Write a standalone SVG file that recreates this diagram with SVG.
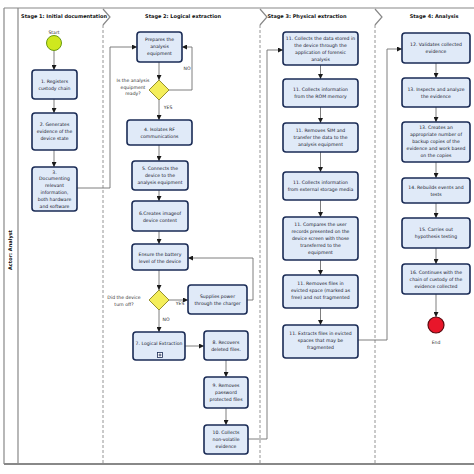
<svg xmlns="http://www.w3.org/2000/svg" width="474" height="474" viewBox="0 0 474 474">
<defs>
<marker id="ah" viewBox="0 0 6 6" refX="6" refY="3" markerWidth="5" markerHeight="5" orient="auto" markerUnits="userSpaceOnUse">
<path d="M0,0 L6,3 L0,6 Z" fill="#1a1a1a"/>
</marker>
<style>
.bx{fill:#e0eaf8;stroke:#1a2b55;stroke-width:1.6}
.t{font-family:"DejaVu Sans","Liberation Sans",sans-serif;font-size:4.6px;fill:#141428;text-anchor:middle}
.lb{font-family:"DejaVu Sans","Liberation Sans",sans-serif;font-size:4.6px;fill:#333;text-anchor:middle}
.hd{font-family:"DejaVu Sans","Liberation Sans",sans-serif;font-size:5px;font-weight:bold;fill:#111;text-anchor:middle}
.c{fill:none;stroke:#707070;stroke-width:0.9;stroke-linejoin:round;marker-end:url(#ah)}
.dash{fill:none;stroke:#888;stroke-width:0.9;stroke-dasharray:3,2}
.pool{fill:none;stroke:#888;stroke-width:1.2}
</style>
</defs>
<rect width="474" height="474" fill="#fff"/>
<g id="pool">
<line class="pool" x1="4" y1="8" x2="474" y2="8"/>
<line class="pool" x1="4" y1="8" x2="4" y2="464"/>
<line class="pool" x1="18" y1="8" x2="18" y2="464"/>
<line x1="4" y1="464" x2="474" y2="464" stroke="#888" stroke-width="2"/>
<text class="hd" transform="translate(12,250) rotate(-90)">Actor: Analyst</text>
</g>
<g id="phases">
<polyline class="pool" points="103,9 110,17 103,25" stroke-width="0.9"/>
<line class="dash" x1="103" y1="25" x2="103" y2="463"/>
<polyline class="pool" points="260,9 267,17 260,25" stroke-width="0.9"/>
<line class="dash" x1="260" y1="25" x2="260" y2="463"/>
<polyline class="pool" points="375,9 382,17 375,25" stroke-width="0.9"/>
<line class="dash" x1="375" y1="25" x2="375" y2="463"/>
<text class="hd" x="64" y="18">Stage 1: Initial documentation</text>
<text class="hd" x="183" y="18">Stage 2: Logical extraction</text>
<text class="hd" x="307" y="18">Stage 3: Physical extraction</text>
<text class="hd" x="434" y="18">Stage 4: Analysis</text>
</g>
<g id="connectors">
<path class="c" d="M54,50.5 V70"/>
<path class="c" d="M54,99 V113"/>
<path class="c" d="M54,150 V167"/>
<path class="c" d="M77,188 H110 V47 H137"/>
<path class="c" d="M159,62 V80"/>
<path class="c" d="M169,90 H192 V47 H182"/>
<path class="c" d="M159,100 V120"/>
<path class="c" d="M159,145 V161"/>
<path class="c" d="M159,190 V201"/>
<path class="c" d="M159,231 V244"/>
<path class="c" d="M159,270 V290"/>
<path class="c" d="M169,300 H188"/>
<path class="c" d="M247,300 H253 V258 H188"/>
<path class="c" d="M159,310 V332"/>
<path class="c" d="M185,346 H204"/>
<path class="c" d="M226,360 V377"/>
<path class="c" d="M226,408 V425"/>
<path class="c" d="M248,439 H267 V50 H283"/>
<path class="c" d="M320.5,65 V79"/>
<path class="c" d="M320.5,107 V123"/>
<path class="c" d="M320.5,152 V172"/>
<path class="c" d="M320.5,200 V217"/>
<path class="c" d="M320.5,260 V275"/>
<path class="c" d="M320.5,308 V325"/>
<path class="c" d="M358,340 H387 V49 H402"/>
<path class="c" d="M436,63 V78"/>
<path class="c" d="M436,107 V122"/>
<path class="c" d="M436,162 V178"/>
<path class="c" d="M436,203 V218"/>
<path class="c" d="M436,248 V264"/>
<path class="c" d="M436,294 V317"/>
<text class="lb" x="187" y="70">NO</text>
<text class="lb" x="168" y="109">YES</text>
<text class="lb" x="180" y="305">YES</text>
<text class="lb" x="166" y="321">NO</text>
</g>
<g id="start">
<circle cx="54" cy="43" r="7.5" fill="#cfe81e" stroke="#6a9a10" stroke-width="1"/>
<text class="lb" x="54" y="34">Start</text>
</g>
<g id="n1"><rect class="bx" x="32" y="70" width="45" height="29" rx="3"/>
<text class="t" x="54.5" y="83">1. Registers<tspan x="54.5" dy="7">custody chain</tspan></text></g>
<g id="n2"><rect class="bx" x="32" y="113" width="45" height="37" rx="3"/>
<text class="t" x="54.5" y="126">2. Generates<tspan x="54.5" dy="7">evidence of the</tspan><tspan x="54.5" dy="7">device state</tspan></text></g>
<g id="n3"><rect class="bx" x="32" y="167" width="45" height="44" rx="3"/>
<text class="t" x="54.5" y="173.5">3.<tspan x="54.5" dy="6.8">Documenting</tspan><tspan x="54.5" dy="6.8">relevant</tspan><tspan x="54.5" dy="6.8">information,</tspan><tspan x="54.5" dy="6.8">both hardware</tspan><tspan x="54.5" dy="6.8">and software</tspan></text></g>
<g id="prep"><rect class="bx" x="137" y="32" width="45" height="30" rx="3"/>
<text class="t" x="159.5" y="41">Prepares the<tspan x="159.5" dy="7">analysis</tspan><tspan x="159.5" dy="7">equipment</tspan></text></g>
<g id="d1"><path d="M159,80 L169,90 L159,100 L149,90 Z" fill="#f4ee5a" stroke="#8a8420" stroke-width="0.9"/>
<text class="lb" x="133" y="82">Is the analysis<tspan x="133" dy="6.5">equipment</tspan><tspan x="133" dy="6.5">ready?</tspan></text></g>
<g id="n4"><rect class="bx" x="127" y="120" width="65" height="25" rx="3"/>
<text class="t" x="159.5" y="131">4. Isolates RF<tspan x="159.5" dy="7">communications</tspan></text></g>
<g id="n5"><rect class="bx" x="132" y="161" width="56" height="29" rx="3"/>
<text class="t" x="160" y="170">5. Connects the<tspan x="160" dy="7">device to the</tspan><tspan x="160" dy="7">analysis equipment</tspan></text></g>
<g id="n6"><rect class="bx" x="132" y="201" width="56" height="30" rx="3"/>
<text class="t" x="160" y="215">6.Creates imageof<tspan x="160" dy="7">device content</tspan></text></g>
<g id="ensure"><rect class="bx" x="132" y="244" width="56" height="26" rx="3"/>
<text class="t" x="160" y="256">Ensure the battery<tspan x="160" dy="7">level of the device</tspan></text></g>
<g id="d2"><path d="M159,290 L169,300 L159,310 L149,300 Z" fill="#f4ee5a" stroke="#8a8420" stroke-width="0.9"/>
<text class="lb" x="124" y="299">Did the device<tspan x="124" dy="6.5">turn off?</tspan></text></g>
<g id="supply"><rect class="bx" x="188" y="285" width="59" height="29" rx="3"/>
<text class="t" x="217.5" y="298">Supplies power<tspan x="217.5" dy="7">through the charger</tspan></text></g>
<g id="n7"><rect class="bx" x="133" y="332" width="52" height="28" rx="3"/>
<text class="t" x="159" y="345">7. Logical Extraction</text>
<rect x="157.5" y="352.5" width="5" height="5" fill="#fff" stroke="#1a2b55" stroke-width="0.8"/>
<path d="M160,353.5 V356.5 M158.5,355 H161.5" stroke="#1a2b55" stroke-width="0.8"/></g>
<g id="n8"><rect class="bx" x="204" y="331" width="44" height="29" rx="3"/>
<text class="t" x="226" y="344">8. Recovers<tspan x="226" dy="7">deleted files.</tspan></text></g>
<g id="n9"><rect class="bx" x="204" y="377" width="44" height="31" rx="3"/>
<text class="t" x="226" y="387">9. Removes<tspan x="226" dy="7">password</tspan><tspan x="226" dy="7">protected files</tspan></text></g>
<g id="n10"><rect class="bx" x="204" y="425" width="44" height="29" rx="3"/>
<text class="t" x="226" y="434">10. Collects<tspan x="226" dy="7">non-volatile</tspan><tspan x="226" dy="7">evidence</tspan></text></g>
<g id="n11a"><rect class="bx" x="283" y="32" width="75" height="33" rx="3"/>
<text class="t" x="320.5" y="40">11. Collects the data stored in<tspan x="320.5" dy="7">the device through the</tspan><tspan x="320.5" dy="7">application of forensic</tspan><tspan x="320.5" dy="7">analysis</tspan></text></g>
<g id="n11b"><rect class="bx" x="283" y="79" width="75" height="28" rx="3"/>
<text class="t" x="320.5" y="91">11. Collects information<tspan x="320.5" dy="7">from the ROM memory</tspan></text></g>
<g id="n11c"><rect class="bx" x="283" y="123" width="75" height="29" rx="3"/>
<text class="t" x="320.5" y="132">11. Removes SIM and<tspan x="320.5" dy="7">transfer the data to the</tspan><tspan x="320.5" dy="7">analysis equipment</tspan></text></g>
<g id="n11d"><rect class="bx" x="283" y="172" width="75" height="28" rx="3"/>
<text class="t" x="320.5" y="184">11. Collects information<tspan x="320.5" dy="7">from external storage media</tspan></text></g>
<g id="n11e"><rect class="bx" x="283" y="217" width="75" height="43" rx="3"/>
<text class="t" x="320.5" y="226">11. Compares the user<tspan x="320.5" dy="7">records presented on the</tspan><tspan x="320.5" dy="7">device screen with those</tspan><tspan x="320.5" dy="7">transferred to the</tspan><tspan x="320.5" dy="7">equipment</tspan></text></g>
<g id="n11f"><rect class="bx" x="283" y="275" width="75" height="33" rx="3"/>
<text class="t" x="320.5" y="285">11. Removes files in<tspan x="320.5" dy="7">evicted space (marked as</tspan><tspan x="320.5" dy="7">free) and not fragmented</tspan></text></g>
<g id="n11g"><rect class="bx" x="283" y="325" width="75" height="33" rx="3"/>
<text class="t" x="320.5" y="335">11. Extracts files in evicted<tspan x="320.5" dy="7">spaces that may be</tspan><tspan x="320.5" dy="7">fragmented</tspan></text></g>
<g id="n12"><rect class="bx" x="402" y="33" width="68" height="30" rx="3"/>
<text class="t" x="436" y="46">12. Validates collected<tspan x="436" dy="7">evidence</tspan></text></g>
<g id="n13"><rect class="bx" x="402" y="78" width="68" height="29" rx="3"/>
<text class="t" x="436" y="91">13. Inspects and analyze<tspan x="436" dy="7">the evidence</tspan></text></g>
<g id="n13b"><rect class="bx" x="402" y="122" width="68" height="40" rx="3"/>
<text class="t" x="436" y="129">13. Creates an<tspan x="436" dy="7">appropriate number of</tspan><tspan x="436" dy="7">backup copies of the</tspan><tspan x="436" dy="7">evidence and work based</tspan><tspan x="436" dy="7">on the copies</tspan></text></g>
<g id="n14"><rect class="bx" x="402" y="178" width="68" height="25" rx="3"/>
<text class="t" x="436" y="188.5">14. Rebuilds events and<tspan x="436" dy="7">tests</tspan></text></g>
<g id="n15"><rect class="bx" x="402" y="218" width="68" height="30" rx="3"/>
<text class="t" x="436" y="231">15. Carries out<tspan x="436" dy="7">hypothesis testing</tspan></text></g>
<g id="n16"><rect class="bx" x="402" y="264" width="68" height="30" rx="3"/>
<text class="t" x="436" y="274">16. Continues with the<tspan x="436" dy="7">chain of custody of the</tspan><tspan x="436" dy="7">evidence collected</tspan></text></g>
<g id="end">
<circle cx="436" cy="325" r="8" fill="#e8162a" stroke="#5a0a10" stroke-width="1.2"/>
<text class="lb" x="436" y="344">End</text>
</g>
</svg>
